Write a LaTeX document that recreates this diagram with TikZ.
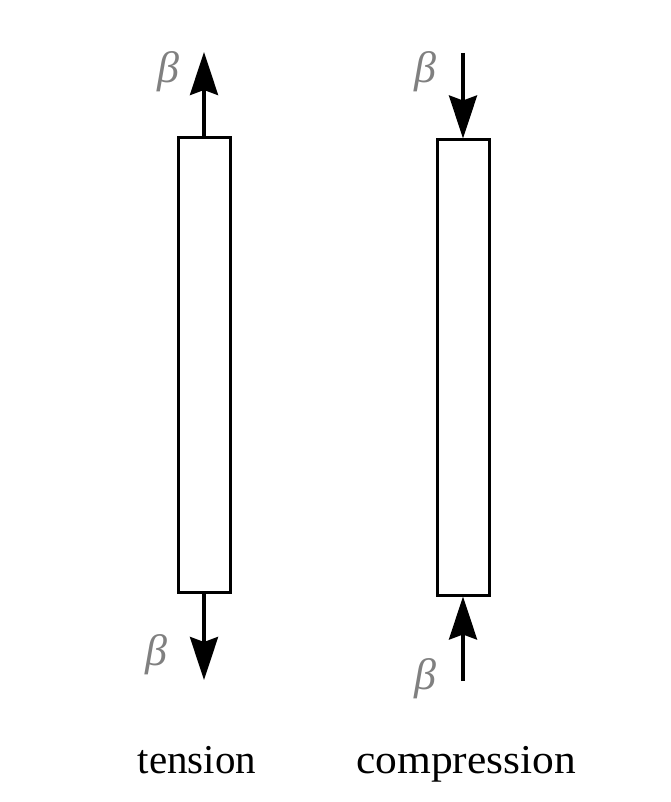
\documentclass[tikz,border=0pt]{standalone}
\usepackage{fontspec}
\setmainfont{Liberation Serif}
\usetikzlibrary{arrows.meta}
\begin{document}
\begin{tikzpicture}[x=1pt,y=-1pt,
  bar/.style={draw=black, line width=3pt, fill=white},
  force/.style={line width=3.8pt, -{Stealth[length=43pt,width=28pt,inset=5pt]}},
  betalab/.style={text=black!50, font=\fontsize{44}{44}\selectfont\itshape, inner sep=0pt},
  caption/.style={font=\fontsize{41}{41}\selectfont, anchor=base, inner sep=0pt}]
\useasboundingbox (0,0) rectangle (670,802);
% tension
\node[bar, minimum width=52pt, minimum height=455pt, inner sep=0pt] (tbar) at (204,365) {};
\coordinate (ttip) at (204,52);
\coordinate (btip) at (204,680);
\draw[force] (tbar.north) -- (ttip);
\draw[force] (tbar.south) -- (btip);
\node[betalab] (tb1) at (168,72) {β};
\node[betalab] (tb2) at (156,655) {β};
% compression
\node[bar, minimum width=52pt, minimum height=455pt, inner sep=0pt] (cbar) at (463,367.5) {};
\coordinate (ctop) at (463,53);
\coordinate (cbot) at (463,681);
\draw[force] (ctop) -- (cbar.north);
\draw[force] (cbot) -- (cbar.south);
\node[betalab] (cb1) at (425,72) {β};
\node[betalab] (cb2) at (425,679) {β};
% captions
\node[caption] (tcap) at (197,773) {tension};
\node[caption, xscale=1.06, transform shape] (ccap) at (466,773) {compression};
\end{tikzpicture}
\end{document}
